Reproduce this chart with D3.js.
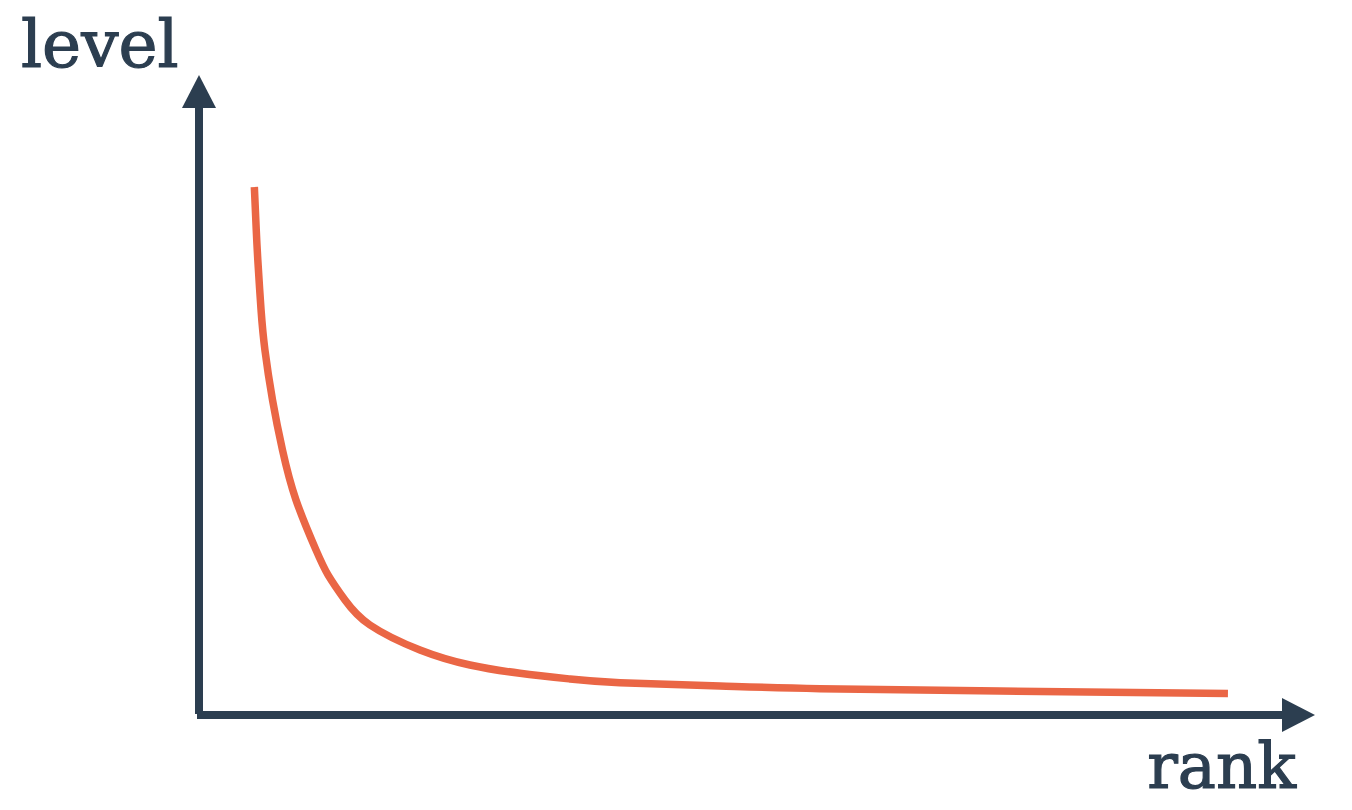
<!DOCTYPE html>
<html>
<head>
<meta charset="utf-8">
<script src="https://cdn.jsdelivr.net/npm/d3@7"></script>
<style>
  body { margin: 0; background: #fff; }
  text { font-family: "DejaVu Serif", serif; fill: #2c3e50; stroke: #2c3e50; stroke-width: 1.2px; }
</style>
</head>
<body>
<script>
// values (rank on 0-100, level on 0-100)
var ranks  = [4.96, 5.13, 5.27, 5.56, 5.91, 6.59, 7.48, 8.69, 10.48, 11.56, 13.08, 15.32,
              19.80, 24.28, 28.76, 33.24, 37.72, 46.68, 55.65, 71.77, 92.2];
var levels = [82.5, 75.8, 71.1, 63.3, 57.0, 49.2, 41.4, 33.6, 25.8, 21.9, 17.97, 14.06,
              10.16, 7.81, 6.52, 5.63, 5.05, 4.53, 4.11, 3.75, 3.36];

var xLabel = "rank",
    yLabel = "level";

var width = 1352,
    height = 810;

var navy = "#2c3e50",
    orange = "#ea6645";

var svg = d3.select("body")
    .append("svg")
    .attr("width", width)
    .attr("height", height);

var x = d3.scaleLinear()
    .domain([0, 100])
    .range([199, 1315]);

var y = d3.scaleLinear()
    .domain([0, 100])
    .range([715, 75]);

var head = 33,      // arrow head length
    half = 17;      // arrow head half width

// y axis with arrow
svg.append("line")
    .attr("x1", x(0)).attr("y1", y(0) - 1)
    .attr("x2", x(0)).attr("y2", y(100) + head)
    .style("stroke", navy)
    .style("stroke-width", 8);

svg.append("path")
    .attr("d", "M" + x(0) + "," + y(100) +
        "L" + (x(0) + half) + "," + (y(100) + head) +
        "L" + (x(0) - half) + "," + (y(100) + head) + "Z")
    .style("fill", navy);

// x axis with arrow
svg.append("line")
    .attr("x1", x(0) - 2).attr("y1", y(0))
    .attr("x2", x(100) - head).attr("y2", y(0))
    .style("stroke", navy)
    .style("stroke-width", 8);

svg.append("path")
    .attr("d", "M" + x(100) + "," + y(0) +
        "L" + (x(100) - head) + "," + (y(0) - half) +
        "L" + (x(100) - head) + "," + (y(0) + half) + "Z")
    .style("fill", navy);

// the curve
var points = ranks.map(function (r, i) { return [r, levels[i]]; });

var line = d3.line()
    .x(function (d) { return x(d[0]); })
    .y(function (d) { return y(d[1]); })
    .curve(d3.curveNatural);

svg.append("path")
    .datum(points)
    .attr("d", line)
    .style("fill", "none")
    .style("stroke", orange)
    .style("stroke-width", 7.5);

// axis titles
svg.append("text")
    .attr("x", 21)
    .attr("y", 67)
    .style("font-size", "66px")
    .text(yLabel);

svg.append("text")
    .attr("x", 1296)
    .attr("y", 788)
    .attr("text-anchor", "end")
    .style("font-size", "64px")
    .text(xLabel);
</script>
</body>
</html>
